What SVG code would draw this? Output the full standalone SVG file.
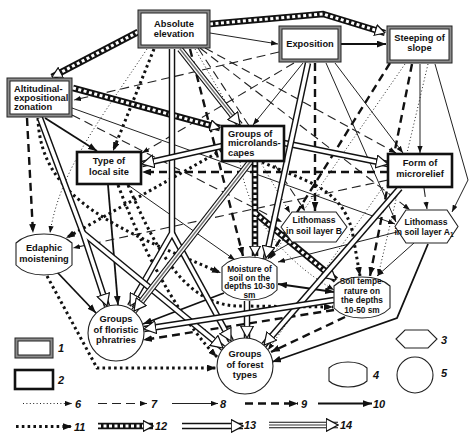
<svg xmlns="http://www.w3.org/2000/svg" width="474" height="440" viewBox="0 0 474 440">
<defs>
<style>
.t{font-family:"Liberation Sans",Arial,sans-serif;font-weight:bold;font-size:9.3px;fill:#111}
.c{text-anchor:middle}
.s{font-size:8.3px}
.r{font-size:8.6px}
.lg{font-family:"Liberation Sans",Arial,sans-serif;font-weight:bold;font-style:italic;font-size:11px;fill:#111}
.o1{fill:#8c8c8c;stroke:#222;stroke-width:1}
.i1{fill:#fff;stroke:#222;stroke-width:1}
.b2{fill:#fff;stroke:#111;stroke-width:2.6}
.sh{fill:#fff;stroke:#222;stroke-width:1.1}
#connectors path,#legend path{fill:none}
.t6{stroke:#222;stroke-width:1;stroke-dasharray:1 2.4;marker-end:url(#a)}
.t7{stroke:#222;stroke-width:1.1;stroke-dasharray:9 5;marker-end:url(#a)}
.t8{stroke:#222;stroke-width:1;marker-end:url(#a)}
.t9{stroke:#111;stroke-width:2.4;stroke-dasharray:8 5;marker-end:url(#b)}
.t10{stroke:#111;stroke-width:1.8;marker-end:url(#b)}
.t11{stroke:#111;stroke-width:3;stroke-dasharray:2.6 3.2;marker-end:url(#b)}
.kb{stroke:#111;stroke-width:6.5}
.k12{stroke:#fff;stroke-width:3;stroke-dasharray:3 2.5}
.k13{stroke:#fff;stroke-width:3.6}
.k14{stroke:#fff;stroke-width:4.4}
.k14c{stroke:#777;stroke-width:1.5}
.hm{stroke:none;marker-end:url(#h)}
.hm12{stroke:none;marker-end:url(#hs)}
</style>
<marker id="a" viewBox="0 0 8 6" refX="8" refY="3" markerWidth="7" markerHeight="5.5" markerUnits="userSpaceOnUse" orient="auto"><path d="M0,0L8,3L0,6z" fill="#111"/></marker>
<marker id="b" viewBox="0 0 8 6" refX="8" refY="3" markerWidth="9" markerHeight="7" markerUnits="userSpaceOnUse" orient="auto-start-reverse"><path d="M0,0L8,3L0,6z" fill="#111"/></marker>
<marker id="h" viewBox="0 0 13 14" refX="12.4" refY="7" markerWidth="13" markerHeight="14" markerUnits="userSpaceOnUse" orient="auto"><path d="M0.6,0.6L12.4,7L0.6,13.4z" fill="#fff" stroke="#111" stroke-width="1.2"/></marker>
<marker id="hs" viewBox="0 0 11 12" refX="10.4" refY="6" markerWidth="11" markerHeight="12" markerUnits="userSpaceOnUse" orient="auto"><path d="M0.6,0.6L10.4,6L0.6,11.4z" fill="#fff" stroke="#111" stroke-width="1.2"/></marker>
</defs>
<rect width="474" height="440" fill="#fff"/>

<g id="connectors">
<!-- type 6 -->
<path class="t6" d="M147,49 C100,120 60,170 50,233"/>
<path class="t6" d="M405,64 L270,259"/>
<path class="t6" d="M428,64 L378,276"/>
<path class="t6" d="M383,187 L268,350"/>
<path class="t6" d="M195,49 L290,213"/>
<path class="t6" d="M240,162 C250,230 300,270 334,290"/>
<!-- type 7 -->
<path class="t7" d="M279,52 L74,100"/>
<path class="t7" d="M294,63 L142,153"/>
<path class="t7" d="M205,48 L396,153"/>
<path class="t7" d="M198,48 L305,211"/>
<path class="t7" d="M424,188 L427,209"/>
<path class="t7" d="M388,180 L73,248"/>
<path class="t7" d="M72,115 L282,222"/>
<path class="t7" d="M200,48 L410,210"/>
<!-- type 8 -->
<path class="t8" d="M210,33 L278,44"/>
<path class="t8" d="M303,63 L253,125"/>
<path class="t8" d="M420,64 L420,153"/>
<path class="t8" d="M435,64 L468,180 L452,212"/>
<path class="t8" d="M72,108 L395,224"/>
<path class="t8" d="M335,63 L403,153"/>
<path class="t8" d="M326,63 L396,222"/>
<path class="t8" d="M128,185 L235,260"/>
<path class="t8" d="M292,242 L262,259"/>
<path class="t8" d="M414,243 L377,276"/>
<path class="t8" d="M397,232 L278,262"/>
<!-- type 9 -->
<path class="t9" d="M27,118 L33,233"/>
<path class="t9" d="M190,49 L243,256"/>
<path class="t9" d="M315,63 L315,211"/>
<path class="t9" d="M388,172 L142,172"/>
<path class="t9" d="M390,63 L268,259"/>
<path class="t9" d="M412,64 L370,276"/>
<path class="t9" d="M345,317 L271,352"/>
<path class="t9" d="M334,310 L143,340"/>
<!-- type 10 -->
<path class="t10" d="M341,44 L386,44"/>
<path class="t10" d="M45,118 L97,151"/>
<path class="t10" d="M108,185 L118,305"/>
<path class="t10" d="M57,272 L96,313"/>
<path class="t10" d="M428,244 L397,318 L272,362"/>
<path class="t10" d="M278,284 L334,292" marker-start="url(#b)"/>
<path class="t10" d="M224,293 L143,324"/>
<!-- type 11 -->
<path class="t11" d="M154,49 L113,151"/>
<path class="t11" d="M38,118 C40,200 120,230 221,273"/>
<path class="t11" d="M222,150 L66,238"/>
<path class="t11" d="M118,185 C150,270 190,330 217,357"/>
<path class="t11" d="M47,276 L97,368 L216,368"/>
<path class="t11" d="M262,162 C300,180 340,185 352,230 L360,276"/>
<path class="t11" d="M128,185 C160,260 190,306 240,306 L333,307"/>
<!-- type 12 -->
<g><path class="kb" d="M138,32 L52,77"/><path class="k12" d="M138,32 L52,77"/><path class="hm12" d="M138,32 L52,77"/></g>
<g><path class="kb" d="M210,24 L323,14 L385,33"/><path class="k12" d="M210,24 L323,14 L385,33"/><path class="hm12" d="M210,24 L323,14 L385,33"/></g>
<g><path class="kb" d="M73,88 L220,128"/><path class="k12" d="M73,88 L220,128"/><path class="hm12" d="M73,88 L220,128"/></g>
<g><path class="kb" d="M255,162 L255,256"/><path class="kb" d="M255,213 L336,280"/><path class="k12" d="M255,162 L255,256"/><path class="k12" d="M255,213 L336,280"/><path class="hm12" d="M255,162 L255,256"/><path class="hm12" d="M255,213 L336,280"/></g>
<!-- type 13 -->
<g><path class="kb" d="M172,49 L172,233 L130,306"/><path class="kb" d="M172,233 L231,341"/><path class="k13" d="M172,49 L172,233 L130,306"/><path class="k13" d="M172,233 L231,341"/><path class="hm" d="M172,49 L172,233 L130,306"/><path class="hm" d="M172,233 L231,341"/></g>
<g><path class="kb" d="M40,118 L83,233 L107,306"/><path class="kb" d="M83,233 L223,348"/><path class="k13" d="M40,118 L83,233 L107,306"/><path class="k13" d="M83,233 L223,348"/><path class="hm" d="M40,118 L83,233 L107,306"/><path class="hm" d="M83,233 L223,348"/></g>
<g><path class="kb" d="M222,146 L142,164"/><path class="k13" d="M222,146 L142,164"/><path class="hm" d="M222,146 L142,164"/></g>
<g><path class="kb" d="M284,143 L388,164"/><path class="k13" d="M284,143 L388,164"/><path class="hm" d="M284,143 L388,164"/></g>
<g><path class="kb" d="M308,63 L266,258"/><path class="k13" d="M308,63 L266,258"/><path class="hm" d="M308,63 L266,258"/></g>
<g><path class="kb" d="M400,188 L264,345"/><path class="k13" d="M400,188 L264,345"/><path class="hm" d="M400,188 L264,345"/></g>
<g><path class="kb" d="M247,301 L247,338"/><path class="k13" d="M247,301 L247,338"/><path class="hm" d="M247,301 L247,338"/></g>
<g><path class="kb" d="M334,300 L144,329"/><path class="k13" d="M334,300 L144,329"/><path class="hm" d="M334,300 L144,329"/></g>
<!-- type 14 -->
<g><path class="kb" d="M180,49 L240,125"/><path class="k14" d="M180,49 L240,125"/><path class="k14c" d="M180,49 L240,125"/><path class="hm" d="M180,49 L240,125"/></g>
<g><path class="kb" d="M250,162 L134,311"/><path class="k14" d="M250,162 L134,311"/><path class="k14c" d="M250,162 L134,311"/><path class="hm" d="M250,162 L134,311"/></g>
</g>

<g id="absolute-elevation"><rect class="o1" x="138" y="10" width="72" height="38"/><rect class="i1" x="141" y="13" width="66" height="32"/><text class="t c" x="174" y="26.5">Absolute</text><text class="t c" x="174" y="36.5">elevation</text></g>
<g id="exposition"><rect class="o1" x="279" y="26" width="62" height="36"/><rect class="i1" x="282" y="29" width="56" height="30"/><text class="t c" x="310" y="47">Exposition</text></g>
<g id="steeping-of-slope"><rect class="o1" x="387" y="26" width="65" height="37"/><rect class="i1" x="390" y="29" width="59" height="31"/><text class="t c" x="419.5" y="41">Steeping of</text><text class="t c" x="419.5" y="51">slope</text></g>
<g id="altitudinal-zonation"><rect class="o1" x="7" y="78" width="65" height="39"/><rect class="i1" x="10" y="81" width="59" height="33"/><text class="t" x="14" y="92">Altitudinal-</text><text class="t" x="14" y="101">expositional</text><text class="t" x="14" y="110">zonation</text></g>
<g id="groups-of-microlandscapes"><rect class="b2" x="222" y="126" width="62" height="35"/><text class="t" x="228" y="136.5">Groups of</text><text class="t" x="228" y="146">microlands-</text><text class="t" x="228" y="155.5">capes</text></g>
<g id="type-of-local-site"><rect class="b2" x="77" y="152" width="64" height="32"/><text class="t c" x="109" y="164">Type of</text><text class="t c" x="109" y="175">local site</text></g>
<g id="form-of-microrelief"><rect class="b2" x="388" y="154" width="64" height="33"/><text class="t c" x="420" y="166">Form of</text><text class="t c" x="420" y="177">microrelief</text></g>
<g id="lithomass-b"><path class="sh" d="M281,227 L292,212 L336,212 L347,227 L336,242 L292,242 Z"/><text class="t r c" x="314" y="223">Lithomass</text><text class="t r c" x="314" y="233.5">in soil layer B</text></g>
<g id="lithomass-a1"><path class="sh" d="M395,226.5 L406,210 L447,210 L458,226.5 L447,243 L406,243 Z"/><text class="t r c" x="426" y="224.5">Lithomass</text><text class="t r c" x="424" y="235">in soil layer A<tspan font-size="6.5" dy="2">1</tspan></text></g>
<g id="edaphic-moistening"><path class="sh" d="M16,243 A32.2,17.8 0 0 1 72,243 L72,265 A32.2,19.8 0 0 1 16,265 Z"/><text class="t c" x="44" y="251">Edaphic</text><text class="t c" x="44" y="261.5">moistening</text></g>
<g id="moisture-of-soil"><path class="sh" d="M222,267 A31.6,19.8 0 0 1 277,267 L277,290 A31.6,19.8 0 0 1 222,290 Z"/><text class="t s c" x="249.5" y="272">Moisture of</text><text class="t s c" x="249.5" y="280.5">soil on the</text><text class="t s c" x="249.5" y="289">depths 10-30</text><text class="t s c" x="249.5" y="297.5">sm</text></g>
<g id="soil-temperature"><path class="sh" d="M334,286 A32.2,17.8 0 0 1 390,286 L390,308 A32.2,19.8 0 0 1 334,308 Z"/><text class="t s c" x="362" y="284">Soil tempe-</text><text class="t s c" x="362" y="293.5">rature on</text><text class="t s c" x="362" y="303">the depths</text><text class="t s c" x="362" y="312.5">10-50 sm</text></g>
<g id="groups-of-floristic-phratries"><circle class="sh" cx="116" cy="333" r="28"/><text class="t c" x="116" y="322">Groups</text><text class="t c" x="116" y="332.5">of floristic</text><text class="t c" x="116" y="343">phratries</text></g>
<g id="groups-of-forest-types"><circle class="sh" cx="245" cy="366" r="28"/><text class="t c" x="245" y="357">Groups</text><text class="t c" x="245" y="367.5">of forest</text><text class="t c" x="245" y="378">types</text></g>

<g id="legend">
<rect class="o1" x="15" y="338" width="38" height="20"/><rect class="i1" x="18" y="341" width="32" height="14"/>
<rect class="b2" x="15" y="370" width="38" height="19"/>
<path class="sh" d="M396,339 L405,330 L428,330 L437,339 L428,348 L405,348 Z"/>
<path class="sh" d="M329,368 A21.9,11.9 0 0 1 367,368 L367,381 A21.9,11.9 0 0 1 329,381 Z"/>
<circle class="sh" cx="415" cy="375" r="18"/>
<path class="t6" d="M23,403.5 L72,403.5"/>
<path class="t7" d="M98,403.5 L147,403.5"/>
<path class="t8" d="M172,403.5 L218,403.5"/>
<path class="t9" d="M245,403.5 L298,403.5"/>
<path class="t10" d="M318,403.5 L372,403.5"/>
<path class="t11" d="M16,426.5 L72,426.5"/>
<path class="kb" d="M98,426 L153,426"/><path class="k12" d="M98,426 L153,426"/><path class="hm12" d="M98,426 L153,426"/>
<path class="kb" d="M182,426 L243,426"/><path class="k13" d="M182,426 L243,426"/><path class="hm" d="M182,426 L243,426"/>
<path class="kb" d="M269,425 L338,425"/><path class="k14" d="M269,425 L338,425"/><path class="k14c" d="M269,425 L338,425"/><path class="hm" d="M269,425 L338,425"/>
<text class="lg" x="58" y="352">1</text>
<text class="lg" x="58" y="383.5">2</text>
<text class="lg" x="441" y="344">3</text>
<text class="lg" x="373" y="379">4</text>
<text class="lg" x="441" y="377">5</text>
<text class="lg" x="75" y="408">6</text>
<text class="lg" x="151" y="408">7</text>
<text class="lg" x="220" y="408">8</text>
<text class="lg" x="301" y="408">9</text>
<text class="lg" x="373" y="408">10</text>
<text class="lg" x="74" y="431">11</text>
<text class="lg" x="155" y="430">12</text>
<text class="lg" x="244" y="429">13</text>
<text class="lg" x="340" y="429">14</text>
</g>
</svg>
